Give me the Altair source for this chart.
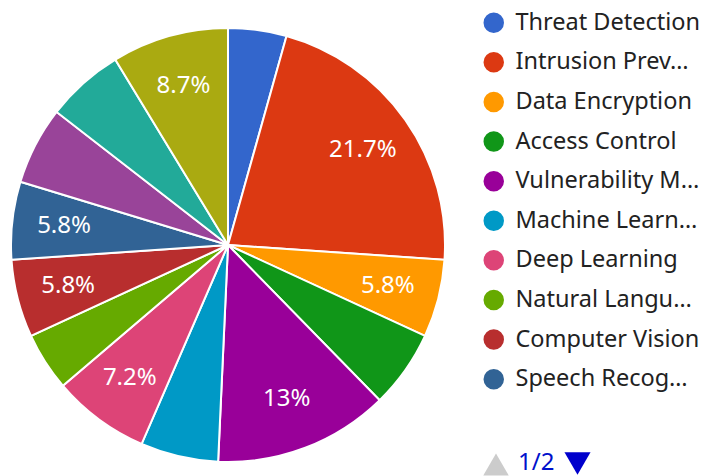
import altair as alt
import pandas as pd

categories = [
    "Threat Detection", "Intrusion Prevention", "Data Encryption", "Access Control",
    "Vulnerability Management", "Machine Learning", "Deep Learning",
    "Natural Language Processing", "Computer Vision", "Speech Recognition",
    "Anomaly Detection", "Predictive Analytics", "Security Analytics",
]
values = [3, 15, 4, 4, 9, 4, 5, 3, 4, 4, 4, 4, 6]
show_label = [False, True, True, False, True, False, True, False, True, True, False, False, True]
colors = ["#3366cc", "#dc3912", "#ff9900", "#109618", "#990099", "#0099c6", "#dd4477",
          "#66aa00", "#b82e2e", "#316395", "#994499", "#22aa99", "#aaaa11"]

total = sum(values)
labels = [f"{round(v / total * 100, 1):g}%" if s else "" for v, s in zip(values, show_label)]

df = pd.DataFrame({"category": categories, "value": values, "idx": list(range(len(values))),
                   "label": labels})

FONT = "Noto Sans"
CX, CY, R = 220, 237, 217

arcs = alt.Chart(df).mark_arc(outerRadius=R, stroke="white", strokeWidth=2).encode(
    theta=alt.Theta("value:Q", stack=True),
    order=alt.Order("idx:Q"),
    color=alt.Color(
        "category:N",
        scale=alt.Scale(domain=categories, range=colors),
        legend=alt.Legend(
            title=None, orient="none", legendX=474, legendY=3, padding=0,
            symbolType="circle", symbolSize=420, symbolStrokeWidth=0,
            labelFont=FONT, labelFontSize=23.5, labelColor="#222222",
            labelOffset=10, labelLimit=185.5, rowPadding=14.6,
            values=categories[:10],
        ),
    ),
    x=alt.value(CX), y=alt.value(CY),
)

texts = alt.Chart(df).mark_text(radius=165, fontSize=24, font=FONT, color="white").encode(
    theta=alt.Theta("value:Q", stack=True),
    order=alt.Order("idx:Q"),
    text="label:N",
    x=alt.value(CX), y=alt.value(CY),
)

pager = pd.DataFrame({"t": ["1/2"]})
up = alt.Chart(pager).mark_point(shape="triangle-up", filled=True, color="#cccccc", size=650, opacity=1).encode(
    x=alt.value(488), y=alt.value(456.5))
down = alt.Chart(pager).mark_point(shape="triangle-down", filled=True, color="#0000cc", size=680, opacity=1).encode(
    x=alt.value(569.5), y=alt.value(455.5))
page_txt = alt.Chart(pager).mark_text(font=FONT, fontSize=24, color="#0011cc", align="left", baseline="alphabetic").encode(
    text="t:N", x=alt.value(510), y=alt.value(462))

chart = alt.layer(arcs, texts, up, down, page_txt).properties(
    width=697, height=468, autosize=alt.AutoSizeParams(type="none"), padding=0
).configure_view(stroke=None)

chart.save("out.html", embed_options={"renderer": "svg", "actions": False})
